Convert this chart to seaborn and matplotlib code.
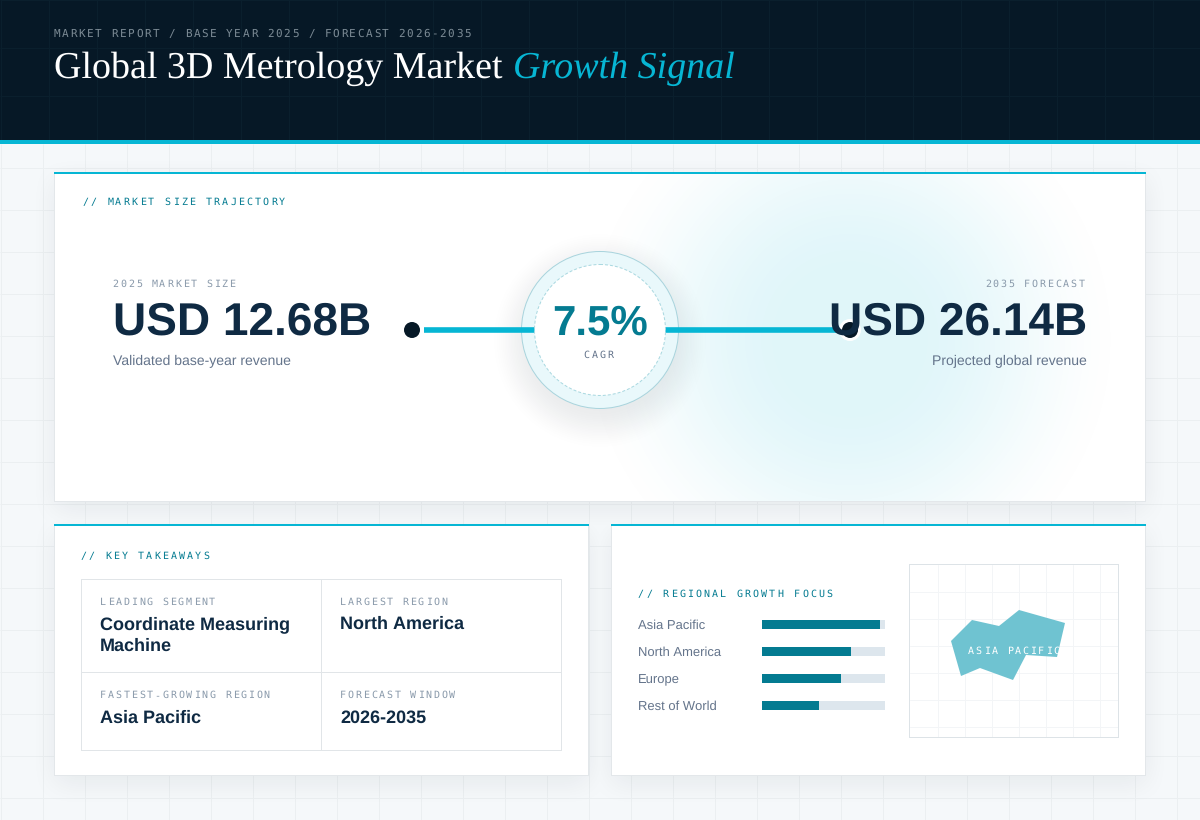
#!/usr/bin/env python
import numpy as np
import pandas as pd
import matplotlib
matplotlib.use("Agg")
import matplotlib.pyplot as plt
import seaborn as sns
from matplotlib.patches import Circle, Rectangle
from matplotlib.text import Text
from matplotlib.transforms import Bbox

eyebrow = "MARKET REPORT / BASE YEAR 2025 / FORECAST 2026-2035"
title_main = "Global 3D Metrology Market"
title_accent = "Growth Signal"

base_label, base_value, base_note = "2025 MARKET SIZE", "USD 12.68B", "Validated base-year revenue"
fcst_label, fcst_value, fcst_note = "2035 FORECAST", "USD 26.14B", "Projected global revenue"
cagr_value, cagr_label = "7.5%", "CAGR"

takeaway_labels = ["LEADING SEGMENT", "LARGEST REGION", "FASTEST-GROWING REGION", "FORECAST WINDOW"]
takeaway_values = ["Coordinate Measuring\nMachine", "North America", "Asia Pacific", "2026-2035"]

regions = ["Asia Pacific", "North America", "Europe", "Rest of World"]
region_scores = [96, 72, 64, 46]
region_track = [100, 100, 100, 100]

# map blob, in pixels inside the little panel
map_x = [42, 63, 90, 110, 156, 148, 117, 104, 71, 52]
map_y = [77, 56, 62, 46, 59, 93, 91, 116, 104, 112]

DARK = "#061826"
CYAN = "#06b6d4"
TEAL = "#047b91"
NAVY = "#0f2a43"
SLATE = "#64748b"
MUTED = "#8a9aab"
LINE = "#e1e5e8"
MONO = "DejaVu Sans Mono"
W, H = 1200, 820


def px(size):
    return size * 0.72


class SpacedText(Text):
    """One text artist drawn with css style letter spacing (mono fonts)."""

    def __init__(self, x, y, text, advance, **kwargs):
        super().__init__(x, y, text, **kwargs)
        self.advance = advance

    def draw(self, renderer):
        text, x = self.get_text(), self.get_position()[0]
        for i, ch in enumerate(text):
            self.set_text(ch)
            self.set_x(x + i * self.advance)
            super().draw(renderer)
        self.set_text(text)
        self.set_x(x)

    def get_window_extent(self, renderer=None, dpi=None):
        box = super().get_window_extent(renderer, dpi)
        return Bbox.from_extents(box.x0, box.y0, box.x0 + len(self.get_text()) * self.advance, box.y1)


def mono(ax, x, y, text, size, advance, color):
    ax.add_artist(SpacedText(x, y, text, advance, fontsize=px(size), color=color,
                             family=MONO, va="baseline", ha="left", zorder=8))


def sans(ax, x, y, text, size, color, bold=False, ha="left"):
    ax.text(x, y, text, fontsize=px(size), color=color, family="Liberation Sans",
            fontweight="bold" if bold else "normal", ha=ha, va="baseline", zorder=8)


def rect(ax, x0, y0, x1, y1, color, zorder=2):
    ax.add_patch(Rectangle((x0, y0), x1 - x0, y1 - y0, facecolor=color, edgecolor="none", zorder=zorder))


def ramp(v):
    v = np.clip(v, 0, 1)
    return v * v * (3 - 2 * v)


def card(ax, x0, y0, x1, y1):
    rect(ax, x0, y0, x1, y1, "#e3e7ea", 3)
    rect(ax, x0 + 1, y0, x1 - 1, y1 - 1, "white", 3)
    rect(ax, x0, y0, x1, y0 + 2, CYAN, 5)


sns.set_theme(style="white")
plt.rcParams["font.family"] = ["Liberation Sans", "DejaVu Sans"]
plt.rcParams["text.hinting"] = "no_hinting"
plt.rcParams["text.hinting_factor"] = 1

# the small extra keeps 8.2*100 from truncating to 819 rows
fig = plt.figure(figsize=(W / 100, (H + 0.01) / 100), dpi=100, facecolor="#f5f8fa")
page = fig.add_axes([0, 0, 1, 1], zorder=0)
page.set_xlim(0, W)
page.set_ylim(H, 0)
page.axis("off")

# page grid
page.vlines(np.arange(0, W, 42) + 0.5, 144, H, color="#ebeff1", lw=px(1), zorder=0)
page.hlines(np.arange(168, H, 42) + 0.5, 0, W, color="#ebeff1", lw=px(1), zorder=0)

# card shadows
xx, yy = np.meshgrid(np.arange(W) + 0.5, np.arange(H) + 0.5)
shadow = np.zeros((H, W))
for x0, y0, x1, y1 in [(54, 172, 1146, 502), (54, 524, 589, 776), (611, 524, 1146, 776)]:
    soft = 26
    one = (ramp((xx - x0 + soft) / (2 * soft)) * ramp((x1 - xx + soft) / (2 * soft))
           * ramp((yy - y0 - 8 + soft) / (2 * soft)) * ramp((y1 + 8 - yy + soft) / (2 * soft)))
    shadow = np.maximum(shadow, one)
shadow_img = np.zeros((H, W, 4))
shadow_img[..., :3] = matplotlib.colors.to_rgb(DARK)
shadow_img[..., 3] = shadow * 0.065
page.imshow(shadow_img, extent=(0, W, H, 0), aspect="auto", zorder=1, interpolation="nearest")
page.set_xlim(0, W)
page.set_ylim(H, 0)

# header
rect(page, 0, 0, W, 140, DARK, 4)
rect(page, 0, 140, W, 144, CYAN, 5)
page.vlines(np.arange(0, W, 48) + 0.5, 0, 140, color="#0a1f2d", lw=px(1), zorder=4.5)
page.hlines(np.arange(0, 140, 48) + 0.5, 0, W, color="#0a1f2d", lw=px(1), zorder=4.5)
mono(page, 54, 37, eyebrow, 11, 8.2, "#7b8a94")
page.text(54, 78, title_main, fontsize=px(38), color="white", family="Liberation Serif", va="baseline", zorder=8)
page.text(513, 78, title_accent, fontsize=px(37.7), color=CYAN, family="Liberation Serif",
          style="italic", va="baseline", zorder=8)

card(page, 54, 172, 1146, 502)
card(page, 54, 524, 589, 776)
card(page, 611, 524, 1146, 776)

# glow in the trajectory card
gx0, gy0, gx1, gy1 = 55, 174, 1145, 501
gxx, gyy = np.meshgrid(np.arange(gx0, gx1) + 0.5, np.arange(gy0, gy1) + 0.5)
dist = np.hypot(gxx - 850, gyy - 340)
glow = np.zeros(gxx.shape + (4,))
glow[..., :3] = matplotlib.colors.to_rgb(CYAN)
glow[..., 3] = 0.125 * ramp((285 - dist) / 230)
page.imshow(glow, extent=(gx0, gx1, gy1, gy0), aspect="auto", zorder=4, interpolation="nearest")

# shadow under the cagr badge
bxx, byy = np.meshgrid(np.arange(490, 710) + 0.5, np.arange(220, 460) + 0.5)
bd = np.hypot(bxx - 600, byy - 341)
badge = np.zeros(bxx.shape + (4,))
badge[..., :3] = matplotlib.colors.to_rgb(DARK)
badge[..., 3] = 0.08 * ramp((112 - bd) / 46)
page.imshow(badge, extent=(490, 710, 460, 220), aspect="auto", zorder=4.2, interpolation="nearest")
page.set_xlim(0, W)
page.set_ylim(H, 0)

# trajectory
mono(page, 82.5, 205, "// MARKET SIZE TRAJECTORY", 10, 8.2, TEAL)
mono(page, 112.5, 287, base_label, 10, 7.8, MUTED)
sans(page, 113, 335, base_value, 46, NAVY, bold=True)
sans(page, 113, 365, base_note, 14, SLATE)
mono(page, 985, 287, fcst_label, 10, 7.8, MUTED)
sans(page, 1087, 335, fcst_value, 46, NAVY, bold=True, ha="right")
sans(page, 1087, 365, fcst_note, 14, SLATE, ha="right")

page.add_patch(Circle((600, 330), 78.5, facecolor="#e9f8fb", edgecolor="#a9d4dd", lw=px(1), zorder=5))
page.add_patch(Rectangle((424, 327.2), 416, 5.6, facecolor=CYAN, edgecolor="none", snap=False, zorder=5.2))
page.add_patch(Circle((412, 330), 8, facecolor=DARK, edgecolor="none", zorder=5.4))
page.add_patch(Circle((850, 330), 9.5, facecolor=DARK, edgecolor="white", lw=px(3), zorder=5.4))
page.add_patch(Circle((600, 330), 65.5, facecolor="white", edgecolor="#a9d8e0", lw=px(1),
                      linestyle=(0, (3, 2)), zorder=5.6))
sans(page, 600, 335, cagr_value, 42, TEAL, bold=True, ha="center")
mono(page, 583.5, 358, cagr_label, 10, 8, SLATE)

# takeaways table
mono(page, 80.5, 559, "// KEY TAKEAWAYS", 10, 8.2, TEAL)
rect(page, 81, 579, 562, 751, LINE, 5)
rect(page, 82, 580, 561, 750, "white", 5)
rect(page, 321, 580, 322, 750, LINE, 5.1)
rect(page, 82, 672, 561, 673, LINE, 5.1)
cell_x = [100, 340, 100, 340]
cell_label_y = [605, 605, 698, 698]
cell_value_y = [629, 629, 723, 723]
for i, label in enumerate(takeaway_labels):
    mono(page, cell_x[i], cell_label_y[i], label, 10, 7.8, MUTED)
    for k, part in enumerate(takeaway_values[i].split("\n")):
        sans(page, cell_x[i], cell_value_y[i] + 22 * k, part, 18, NAVY, bold=True)

# regional bars
mono(page, 638, 597, "// REGIONAL GROWTH FOCUS", 10, 8.2, TEAL)
ax = fig.add_axes([762 / W, 1 - 719 / H, 123 / W, 108 / H], zorder=2)
ax.patch.set_alpha(0)
df = pd.DataFrame({"region": regions, "score": region_scores, "track": region_track})
sns.barplot(data=df, y="region", x="track", color="#dde6ed", width=1 / 3, saturation=1, linewidth=0, ax=ax)
sns.barplot(data=df, y="region", x="score", color=TEAL, width=1 / 3, saturation=1, linewidth=0, ax=ax)
ax.set_xlim(0, 100)
ax.set_ylim(3.5, -0.5)
ax.set_xlabel("")
ax.set_ylabel("")
ax.set_xticks([])
sns.despine(ax=ax, left=True, bottom=True)
ax.tick_params(axis="y", length=0, pad=px(124), labelsize=px(13), labelcolor=SLATE)
for lab in ax.get_yticklabels():
    lab.set_ha("left")
    lab.set_family("Liberation Sans")

# map panel
rect(page, 909, 564, 1119, 738, "#dde3e7", 5)
mp = fig.add_axes([910 / W, 1 - 737 / H, 208 / W, 172 / H], zorder=2, facecolor="white")
mp.set_xlim(1, 209)
mp.set_ylim(173, 1)
mp.set_xticks(np.arange(28.5, 209, 27))
mp.set_yticks(np.arange(28.5, 173, 27))
mp.grid(True, color="#f3f5f7", lw=px(1))
mp.set_axisbelow(True)
mp.tick_params(length=0, labelbottom=False, labelleft=False)
for spine in mp.spines.values():
    spine.set_visible(False)
mp.fill(map_x, map_y, color="#6fc3d1", lw=0)
mp.add_artist(SpacedText(59, 90, "ASIA PACIFIC", 7.8, fontsize=px(10), color="white",
                         family=MONO, va="baseline", ha="left", zorder=8))

fig.savefig("out.png", dpi=100, facecolor=fig.get_facecolor())
